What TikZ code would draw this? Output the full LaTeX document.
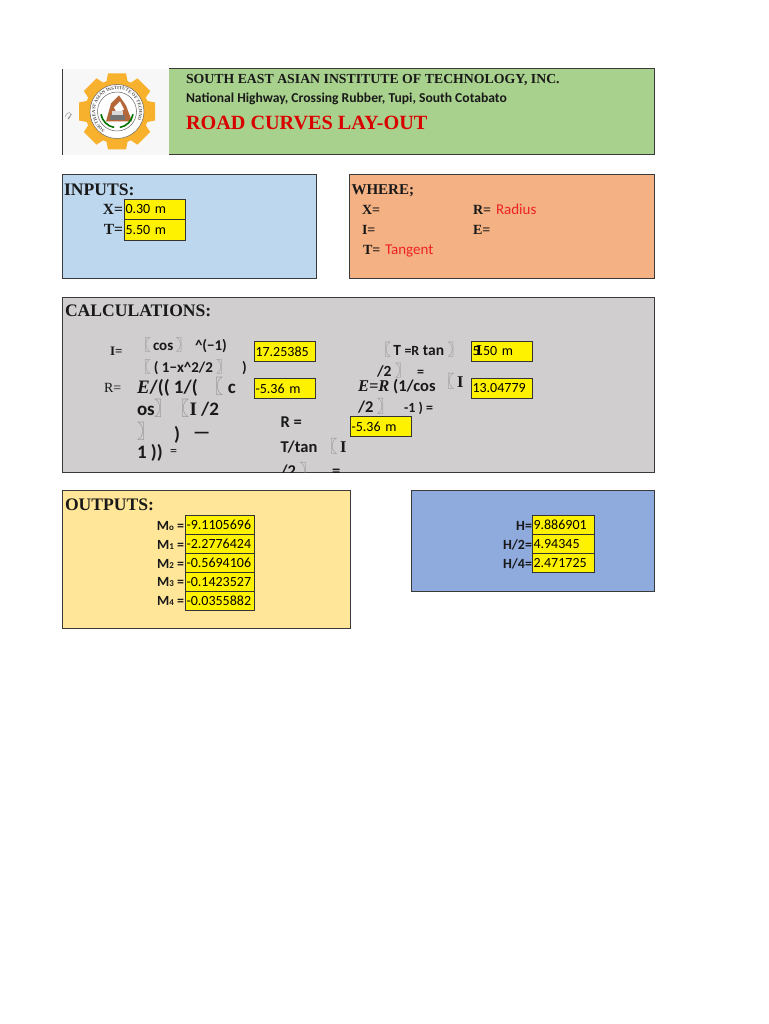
\documentclass[tikz,border=0pt]{standalone}
\usepackage{fontspec}
\setmainfont{Liberation Serif}
\setsansfont{Carlito}
\newfontfamily\cjk{Noto Sans CJK SC}
\usetikzlibrary{decorations.text}
\definecolor{hdr}{HTML}{A9D18E}
\definecolor{inp}{HTML}{BDD7EE}
\definecolor{whr}{HTML}{F4B183}
\definecolor{calc}{HTML}{D0CECE}
\definecolor{outp}{HTML}{FFE699}
\definecolor{hbx}{HTML}{8FAADC}
\definecolor{bord}{HTML}{3A3A3A}
\definecolor{gear}{HTML}{F8B12C}
\definecolor{rust}{HTML}{B5673A}
\definecolor{redt}{HTML}{EE2222}
\newcommand{\fs}[1]{\fontsize{#1}{#1}\selectfont}
\newcommand{\lb}{{\cjk\color{black!45}\kern-.5em 〖}}
\newcommand{\rb}{{\cjk\color{black!45}〗\kern-.5em}}
\newcommand{\subs}[1]{{\fs{9}#1}}
\tikzset{
  panel/.style={draw=bord,line width=1pt},
  lbl/.style={anchor=base west,inner sep=0pt,outer sep=0pt,text=black!90},
  rlbl/.style={anchor=base east,inner sep=0pt,outer sep=0pt,text=black!90},
  head/.style={lbl,font=\rmfamily\bfseries\fs{17.6}},
  ser/.style={lbl,font=\rmfamily\fs{14}},
  serb/.style={lbl,font=\rmfamily\bfseries\fs{14}},
  rser/.style={rlbl,font=\rmfamily\bfseries\fs{15.5}},
  san/.style={lbl,font=\sffamily\bfseries\fs{15}},
  big/.style={lbl,font=\sffamily\bfseries\fs{19}},
  eqb/.style={lbl,font=\sffamily\bfseries\fs{16.5}},
  sans/.style={lbl,font=\sffamily\bfseries\fs{14}},
  rsans/.style={rlbl,font=\sffamily\bfseries\fs{14}},
  redl/.style={lbl,font=\sffamily\fs{15},text=redt},
  cell/.style={draw=black!80,fill=yellow,line width=1pt,anchor=north west,inner xsep=1pt,inner ysep=0pt,
    font=\sffamily\fs{14},text=black,align=left},
  cella/.style={cell,text width=59pt,minimum height=20pt},
  cellb/.style={cell,text width=67pt,minimum height=19pt},
}
\begin{document}
\begin{tikzpicture}[x=1pt,y=-1pt]
\useasboundingbox (0,0) rectangle (768,1024);
\fill[white] (0,0) rectangle (768,1024);
% header
\fill[hdr] (169,69) rectangle (654,155);
\fill[black!3] (62,69) rectangle (169,155);
% logo
\begin{scope}[shift={(117,111.5)}]
  \foreach \a in {0,45,...,315}{
    \fill[gear,rotate=\a] (-9,-38) -- (9,-38) -- (11,-28) -- (-11,-28) -- cycle;
  }
  \fill[gear] (0,0) circle (32);
  \fill[white] (0,0) circle (27);
  \draw[black!60,line width=.5pt] (0,0) circle (27);
  \draw[black!60,line width=.5pt] (0,0) circle (19.5);
  \path[postaction={decorate,decoration={text along path,text align=center,
     text={|\rmfamily\bfseries\fs{4.6}\color{black!70}|SOUTH EAST ASIAN INSTITUTE OF TECHNOLOGY}}}]
     (-20.6,7.5) arc[start angle=160,end angle=380,radius=22];
  \fill[rust] (-11,10) -- (-6,-8) -- (2,-16) -- (9,-6) -- (15,10) -- cycle;
  \fill[white] (-3,-4) -- (3,-10) -- (7,-2) -- (0,2) -- cycle;
  \fill[black!55] (-7,4) rectangle (8,9);
  \fill[black!15] (-5,0) rectangle (6,4);
  \draw[green!45!black,line width=1.6pt] (-16,2.8) arc[start angle=170,end angle=100,radius=16.2];
  \draw[green!45!black,line width=1.6pt] (16,2.8) arc[start angle=10,end angle=80,radius=16.2];
\end{scope}
\draw[black!45,line width=.4pt] (65,117) .. controls (68,110) and (72,112) .. (70,117) .. controls (68,121) and (66,119) .. (72,114);
\draw[panel] (62,69) -- (62,155);
\draw[panel] (169,69) -- (654,69) -- (654,155) -- (169,155);
\node[lbl,font=\rmfamily\bfseries\fs{13.8}] (t1) at (186,84) {SOUTH EAST ASIAN INSTITUTE OF TECHNOLOGY, INC.};
\node[lbl,font=\sffamily\bfseries\fs{13.6}] (t2) at (186,103) {National Highway, Crossing Rubber, Tupi, South Cotabato};
\node[lbl,font=\rmfamily\bfseries\fs{20.2},text=red!85!black] (t3) at (186,130) {ROAD CURVES LAY-OUT};
% inputs
\draw[panel,fill=inp] (62.5,174.5) rectangle (316,278.5);
\node[head] (inh) at (64,195.5) {INPUTS:};
\node[rser] (ix) at (123,214.5) {X=};
\node[rser] (it) at (123,235) {T=};
\node[cella] (xv) at (124,199) {0.30 m};
\node[cella] (tv) at (124,219.5) {5.50 m};
% where
\draw[panel,fill=whr] (349.5,174.5) rectangle (654,278.5);
\node[lbl,font=\rmfamily\bfseries\fs{15}] (wh) at (351.5,194.5) {WHERE;};
\node[serb] (wx) at (362,214.5) {X=};
\node[serb] (wi) at (362,234.5) {I=};
\node[serb] (wt) at (363,254.5) {T=};
\node[redl] (wtt) at (385,254.5) {Tangent};
\node[serb] (wr) at (473,214.5) {R=};
\node[redl] (wrr) at (496,214.5) {Radius};
\node[serb] (we) at (473,234.5) {E=};
% calc
\draw[panel,fill=calc] (62.5,297) rectangle (654,472);
\node[head] (ch) at (65,316.5) {CALCULATIONS:};
\node[ser,font=\rmfamily\bfseries\fs{13}] (ci) at (110,355) {I=};
\node[san] (c1) at (143,350) {\lb\,cos\,\rb};
\node[san] (c2) at (195,350) {\textasciicircum(−1)};
\node[san] (c3) at (143,372) {\lb\ ( 1−x\textasciicircum 2/2 \rb};
\node[san] (c4) at (242,372) {)};
\node[lbl,font=\rmfamily\fs{14}] (cr) at (104,392) {R=};
\node[big] (c5) at (137,393) {\textit{\rmfamily E}/(( 1/(};
\node[big] (c6) at (214,393) {\lb\ c};
\node[big] (c7) at (137,415) {os\rb};
\node[big] (c8) at (180,415) {\lb\textrm{I} /2};
\node[big] (c9) at (137,438) {\rb};
\node[big] (c10) at (174,440) {)};
\node[big] (c11) at (193,438) {—};
\node[big] (c12) at (137,458) {1 ))};
\node[lbl,font=\sffamily\fs{14}] (c13) at (170,455) {=};
\node[cella] (iv) at (254,341) {17.25385};
\node[cella] (rv) at (254,378) {-5.36 m};
\node[eqb] (r1) at (280.5,427) {R =};
\node[eqb] (r2) at (280.5,452) {T/tan};
\node[eqb] (r3) at (329,452) {\lb\,\textrm{I}};
\begin{scope}
  \clip (62.5,297) rectangle (654,472.5);
  \node[eqb] (r4) at (280.5,476) {/2 \rb};
  \node[eqb] (r5) at (332,476) {=};
\end{scope}
\node[cella] (rw) at (350,416) {-5.36 m};
\node[eqb,font=\sffamily\bfseries\fs{15.5}] (e1) at (383,355) {\lb\,T {\fs{14}=R} tan \rb};
\node[eqb,font=\sffamily\bfseries\fs{15.5}] (e2) at (377,376) {/2 \rb};
\node[sans] (e3) at (417,376) {=};
\node[big,font=\sffamily\bfseries\fs{16.5}] (e4) at (358,391) {\textit{\rmfamily E=R} (1/cos};
\node[eqb] (e5) at (446,387) {\lb\,\textrm{I}};
\node[big,font=\sffamily\bfseries\fs{16.5}] (e6) at (358,412) {/2 \rb};
\node[sans] (e7) at (404,412) {-1 ) =};
\node[cella] (tw) at (471,341) {5.50 m};
\node[lbl,font=\rmfamily\bfseries\fs{15},text=black] (ibar) at (476,355) {I};
\node[cella] (ew) at (471,378) {13.04779};
% outputs
\draw[panel,fill=outp] (62.5,490.5) rectangle (350,628);
\node[head] (oh) at (65,510.5) {OUTPUTS:};
\node[rsans] (m0) at (184,530) {M\subs{o} =};
\node[rsans] (m1) at (184,549) {M\subs{1} =};
\node[rsans] (m2) at (184,568) {M\subs{2} =};
\node[rsans] (m3) at (184,586) {M\subs{3} =};
\node[rsans] (m4) at (184,605) {M\subs{4} =};
\node[cellb] (v0) at (185,515) {-9.1105696};
\node[cellb] (v1) at (185,534) {-2.2776424};
\node[cellb] (v2) at (185,553) {-0.5694106};
\node[cellb] (v3) at (185,572) {-0.1423527};
\node[cellb] (v4) at (185,591) {-0.0355882};
% H
\draw[panel,fill=hbx] (411,490.5) rectangle (654,591);
\node[rsans] (h0) at (532,530) {H=};
\node[rsans] (h1) at (532,549) {H/2=};
\node[rsans] (h2) at (532,568) {H/4=};
\node[cell,text width=60pt,minimum height=19pt] (hv0) at (532,515) {9.886901};
\node[cell,text width=60pt,minimum height=19pt] (hv1) at (532,534) {4.94345};
\node[cell,text width=60pt,minimum height=19pt] (hv2) at (532,553) {2.471725};
\end{tikzpicture}
\end{document}
